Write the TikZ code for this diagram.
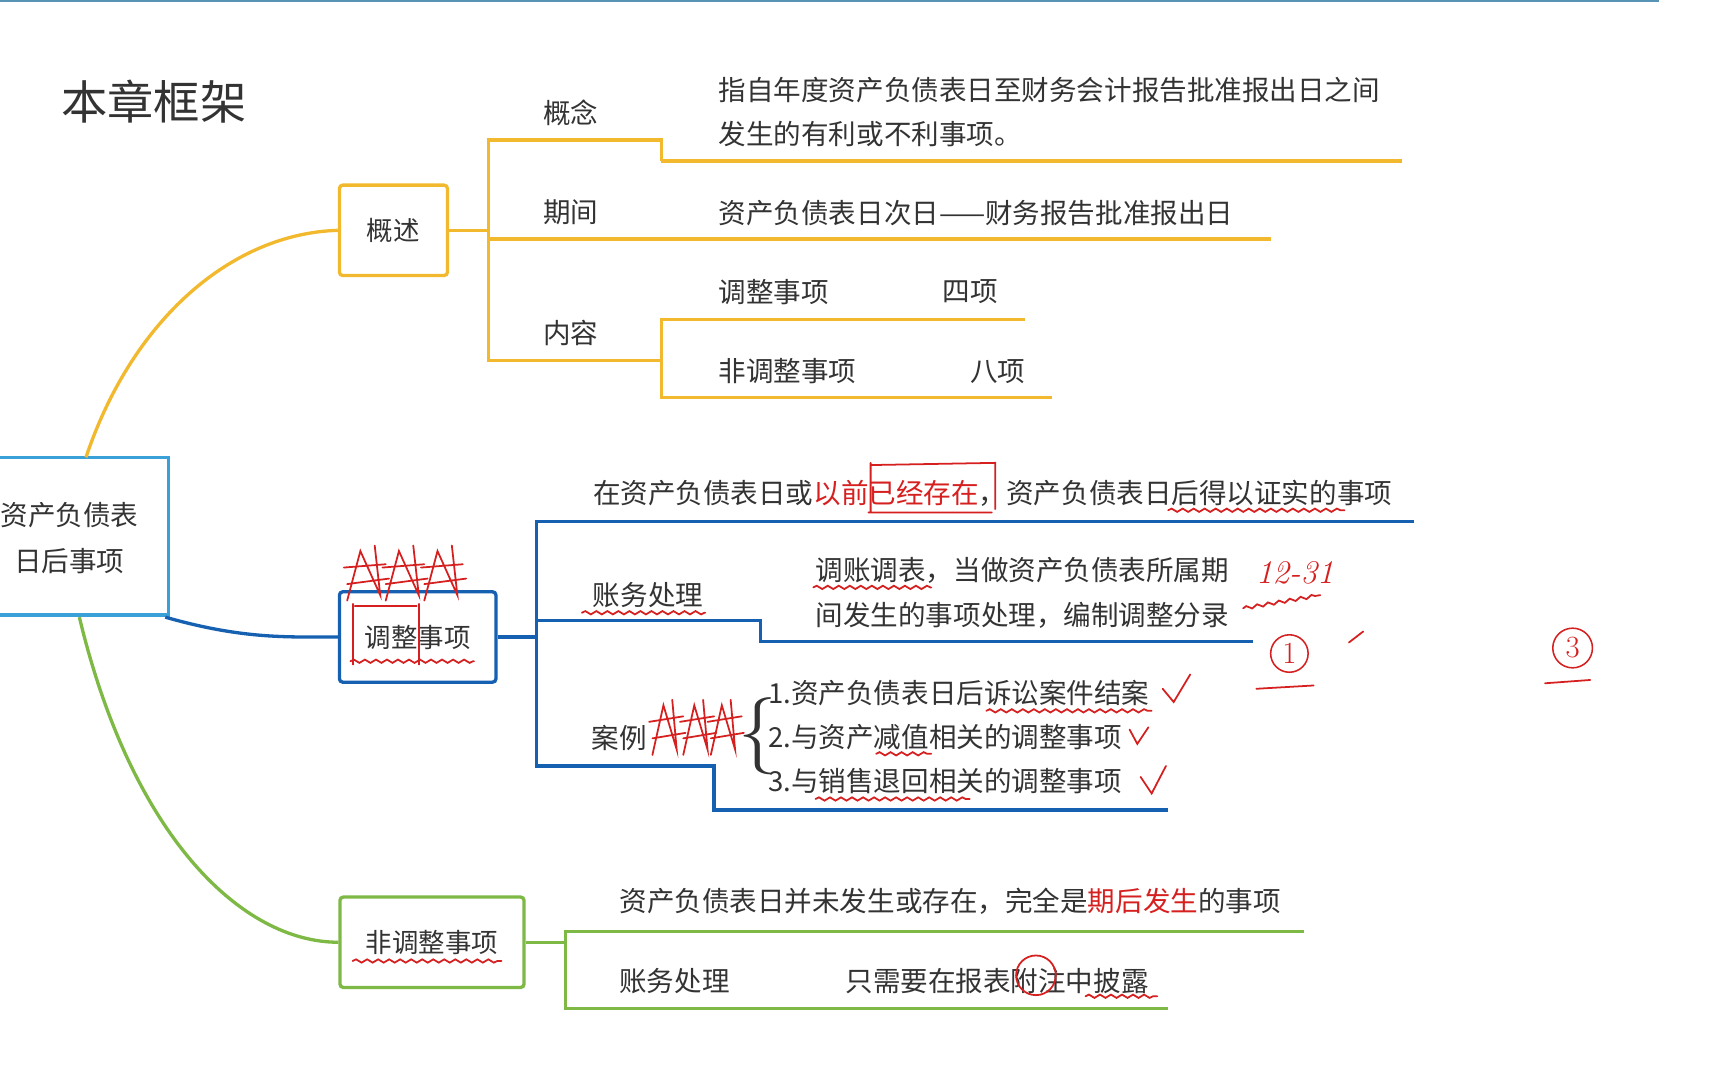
\documentclass[tikz,border=0pt]{standalone}
\usepackage{fontspec}
\newfontfamily\cjk{Noto Sans CJK SC}
\usetikzlibrary{decorations.pathmorphing}
\definecolor{yel}{HTML}{F2B92E}
\definecolor{blu}{HTML}{1560B0}
\definecolor{lblu}{HTML}{3AA0D8}
\definecolor{grn}{HTML}{7DB944}
\definecolor{red1}{HTML}{D62020}
\definecolor{txt}{HTML}{333333}
\begin{document}
\begin{tikzpicture}[x=1pt,y=-1pt,
  lbl/.style={font=\cjk\fontsize{25}{32}\selectfont,text=txt,inner sep=0pt},
  lbll/.style={lbl,anchor=west,align=left},
  boxn/.style={draw,line width=3pt,rounded corners=3pt,font=\cjk\fontsize{24}{32}\selectfont,text=txt,minimum height=82pt,inner sep=0pt},
  ln/.style={line width=3pt},
  ann/.style={red1,line width=1.6pt,line cap=round},
  wav/.style={ann,decorate,decoration={snake,amplitude=1.5pt,segment length=10pt}}]
\useasboundingbox (0,0) rectangle (1568,980);
\fill[white] (0,0) rectangle (1568,980);
\draw[lblu!60!gray,line width=1.5pt] (0,1) -- (1505,1);
\node[anchor=west,font=\cjk\fontsize{42}{44}\selectfont,text=txt] (title) at (52,92) {本章框架};
% root
\draw[lblu,line width=3pt] (-5,415) rectangle (153,558);
\node[lbl,align=center,font=\cjk\fontsize{25}{42}\selectfont] (root) at (63,488) {资产负债表\\日后事项};
% yellow
\node[boxn,draw=yel,minimum width=98pt] (gs) at (357,209) {概述};
\draw[yel,ln] (78,415) .. controls (120,290) and (210,212) .. (gs.west);
\draw[yel,ln] (gs.east) -- (443,209);
\draw[yel,ln] (600,146) -- (600,127) -- (443,127) -- (443,327) -- (600,327);
\draw[yel,ln] (600,146) -- (1272,146);
\draw[yel,ln] (443,217) -- (1153,217);
\draw[yel,ln] (930,290) -- (600,290) -- (600,361) -- (955,361);
\node[lbl] (gn) at (518,102) {概念};
\node[lbll,font=\cjk\fontsize{25}{40}\selectfont] (gnt) at (652,102) {指自年度资产负债表日至财务会计报告批准报出日之间\\发生的有利或不利事项。};
\node[lbl] (qj) at (518,193) {期间};
\node[lbll] (qjt) at (652,193) {资产负债表日次日——财务报告批准报出日};
\node[lbl] (nr) at (518,302) {内容};
\node[lbll] (tz) at (652,265) {调整事项};
\node[lbll] (sx) at (855,265) {四项};
\node[lbll] (ftz) at (652,337) {非调整事项};
\node[lbll] (bx) at (880,337) {八项};
% blue
\node[boxn,draw=blu,minimum width=142pt] (tzb) at (379,578) {调整事项};
\draw[blu,ln] (150,560) .. controls (220,580) and (260,578) .. (tzb.west);
\draw[blu,ln] (tzb.east) -- (487,578);
\draw[blu,ln] (1283,473) -- (487,473) -- (487,695) -- (648,695) -- (648,735) -- (1060,735);
\draw[blu,ln] (487,563) -- (690,563) -- (690,582) -- (1137,582);
\node[lbll] (dy) at (538,448) {在资产负债表日或\textcolor{red1}{以前已经存在}，资产负债表日后得以证实的事项};
\node[lbl] (zw) at (588,540) {账务处理};
\node[lbll,font=\cjk\fontsize{25}{40}\selectfont] (zwt) at (740,538) {调账调表，当做资产负债表所属期\\间发生的事项处理，编制调整分录};
\node[lbl] (al) at (562,670) {案例};
\node[font=\fontsize{70}{70}\selectfont,text=txt,inner sep=0pt] (br) at (688,668) {\{};
\node[lbll] (a1) at (697,629) {1.资产负债表日后诉讼案件结案};
\node[lbll] (a2) at (697,669) {2.与资产减值相关的调整事项};
\node[lbll] (a3) at (697,709) {3.与销售退回相关的调整事项};
% green
\node[boxn,draw=grn,minimum width=167pt] (ftzb) at (392,855) {非调整事项};
\draw[grn,ln] (72,560) .. controls (120,760) and (220,855) .. (ftzb.west);
\draw[grn,ln] (ftzb.east) -- (513,855);
\draw[grn,ln] (1183,845) -- (513,845) -- (513,915) -- (1060,915);
\node[lbll] (fd) at (562,818) {资产负债表日并未发生或存在，完全是\textcolor{red1}{期后发生}的事项};
\node[lbl] (fzw) at (612,890) {账务处理};
\node[lbll] (fzt) at (767,890) {只需要在报表附注中披露};
% annotations
\draw[ann] (790,420) -- (790,465) (790,422) -- (903,420) -- (903,462) (788,465) -- (900,465);
\draw[wav] (1060,463) -- (1220,463);
\draw[wav] (528,556) -- (640,556);
\draw[wav] (738,533) -- (845,533);
\draw[wav] (1128,552) -- (1198,540);
\draw[wav] (895,645) -- (1045,645);
\draw[wav] (795,684) -- (845,684);
\draw[wav] (740,725) -- (880,725);
\draw[wav] (320,872) -- (455,872);
\draw[wav] (985,904) -- (1050,904);
\draw[wav] (318,600) -- (430,600);
\draw[ann] (320,548) -- (320,603) (380,548) -- (380,603) (322,550) -- (378,550);
\draw[ann] (940,885) circle (18pt);
\draw[ann] (1055,625) -- (1065,637) -- (1080,612);
\draw[ann] (1025,662) -- (1032,675) -- (1042,660);
\draw[ann] (1035,705) -- (1045,720) -- (1058,695);
\foreach \x in {315,350,385} {\draw[ann] (\x,545) -- (\x+12,500) -- (\x+30,540) -- (\x+25,495) (\x-3,515) -- (\x+35,512) (\x,530) -- (\x+38,525);}
\foreach \x in {592,620,645} {\draw[ann] (\x,685) -- (\x+10,640) -- (\x+22,680) -- (\x+18,635) (\x-3,655) -- (\x+28,650) (\x,670) -- (\x+30,665);}
\node[red1,font=\fontsize{30}{30}\selectfont\itshape,inner sep=0pt] (d1231) at (1175,520) {12-31};
\node[red1,font=\fontsize{28}{28}\selectfont,inner sep=0pt,draw,circle,minimum size=34pt,line width=1.4pt] (c1) at (1170,593) {1};
\draw[ann] (1140,625) -- (1192,622);
\node[red1,font=\fontsize{28}{28}\selectfont,inner sep=0pt,draw,circle,minimum size=36pt,line width=1.4pt] (c3) at (1427,588) {3};
\draw[ann] (1402,620) -- (1443,617);
\draw[ann] (1224,583) -- (1237,573);
\end{tikzpicture}
\end{document}
